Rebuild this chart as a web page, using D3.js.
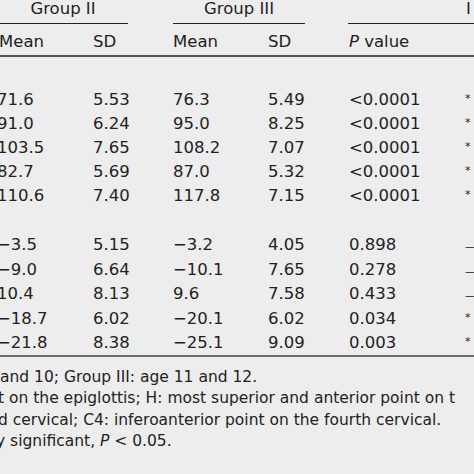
<!DOCTYPE html><html><head><meta charset="utf-8">
<script src="https://cdn.jsdelivr.net/npm/d3@7"></script>
<style>body{margin:0;background:#ededed}svg{display:block}</style></head><body>
<script>
const groupHeaders=["Group II","Group III","I"];
const colHeaders=["Mean","SD","Mean","SD","P value"];
const g2Mean=["71.6","91.0","103.5","82.7","110.6","\u22123.5","\u22129.0","10.4","\u221218.7","\u221221.8"];
const g2SD=["5.53","6.24","7.65","5.69","7.40","5.15","6.64","8.13","6.02","8.38"];
const g3Mean=["76.3","95.0","108.2","87.0","117.8","\u22123.2","\u221210.1","9.6","\u221220.1","\u221225.1"];
const g3SD=["5.49","8.25","7.07","5.32","7.15","4.05","7.65","7.58","6.02","9.09"];
const pVal=["<0.0001","<0.0001","<0.0001","<0.0001","<0.0001","0.898","0.278","0.433","0.034","0.003"];
const sig=["*","*","*","*","*","\u2014","\u2014","\u2014","*","*"];
const footnotes=[" and 10; Group III: age 11 and 12.","t on the epiglottis; H: most superior and anterior point on t","d cervical; C4: inferoanterior point on the fourth cervical.","y significant, "];
const W=474,H=474;
const svg=d3.select("body").append("svg").attr("width",W).attr("height",H).style("font-family","'DejaVu Sans',Verdana,sans-serif").style("fill","#222");
svg.append("rect").attr("width",W).attr("height",H).attr("fill","#ededed");
const rowY=d3.scaleLinear().domain([0,4]).range([105,201]);
const rowY2=d3.scaleLinear().domain([5,9]).range([250,348]);
const y=i=>i<5?rowY(i):rowY2(i);
const cols=[-3,93,173,268,349,465];
const FS=16.5;
[[63,"middle"],[239,"middle"],[466,"start"]].forEach((p,i)=>svg.append("text").attr("x",p[0]).attr("y",14).attr("text-anchor",p[1]).attr("font-size",FS).text(groupHeaders[i]));
[[0,128],[173,305],[348,474]].forEach(s=>svg.append("line").attr("x1",s[0]).attr("x2",s[1]).attr("y1",23.5).attr("y2",23.5).attr("stroke","#222").attr("stroke-width",1.2));
const hx=[-1,93,173,268,349];
colHeaders.forEach((h,i)=>{const t=svg.append("text").attr("x",hx[i]).attr("y",47).attr("font-size",FS);
 if(h==="P value"){t.append("tspan").attr("font-style","italic").text("P");t.append("tspan").text(" value");}else t.text(h);});
svg.append("line").attr("x1",0).attr("x2",W).attr("y1",56).attr("y2",56).attr("stroke","#222").attr("stroke-width",1.5);
[g2Mean,g2SD,g3Mean,g3SD,pVal,sig].forEach((arr,c)=>{
 svg.selectAll(null).data(arr).enter().append("text").attr("x",c===5?465:cols[c]).attr("y",(d,i)=>y(i)-(c===5&&d==="*"?3:0)).attr("font-size",c===5?11:FS).text(d=>d);
});
svg.append("line").attr("x1",0).attr("x2",W).attr("y1",356).attr("y2",356).attr("stroke","#444").attr("stroke-width",1.5);
const fx=[0,-2,-2,-4], fy=[382,403,425,446];
footnotes.forEach((f,i)=>{const t=svg.append("text").attr("x",fx[i]).attr("y",fy[i]).attr("font-size",15.5).text(f);
 if(i===3){t.append("tspan").attr("font-style","italic").text("P");t.append("tspan").text(" < 0.05.");}});
</script></body></html>
